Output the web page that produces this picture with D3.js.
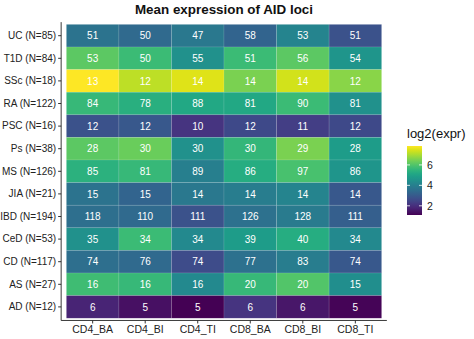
<!DOCTYPE html>
<html>
<head>
<meta charset="utf-8">
<script src="https://cdn.jsdelivr.net/npm/d3@7"></script>
<style>
  html, body { margin: 0; padding: 0; background: #fff; }
  svg { display: block; font-family: "Liberation Sans", Arial, Helvetica, sans-serif; }
</style>
</head>
<body>
<svg id="chart" width="474" height="339"></svg>
<script>
const columns = ["CD4_BA", "CD4_BI", "CD4_TI", "CD8_BA", "CD8_BI", "CD8_TI"];
const rows = ["UC (N=85)", "T1D (N=84)", "SSc (N=18)", "RA (N=122)", "PSC (N=16)", "Ps (N=38)",
              "MS (N=126)", "JIA (N=21)", "IBD (N=194)", "CeD (N=53)", "CD (N=117)", "AS (N=27)", "AD (N=12)"];
// log2(expr) colour values, one array per row, in column order
const log2Expr = [
  [3.67, 3.40, 3.80, 3.26, 4.14, 2.79],
  [6.16, 5.69, 4.48, 5.69, 6.16, 4.61],
  [7.85, 7.18, 7.51, 6.50, 7.38, 6.64],
  [5.62, 5.35, 5.15, 5.15, 5.69, 4.48],
  [2.79, 2.92, 2.11, 2.59, 2.32, 2.59],
  [6.16, 6.30, 4.48, 5.56, 6.50, 4.81],
  [5.42, 5.62, 4.00, 5.29, 5.89, 4.61],
  [3.67, 3.26, 3.80, 3.94, 4.14, 2.92],
  [3.53, 3.40, 2.79, 3.60, 3.87, 3.13],
  [4.48, 5.69, 4.27, 4.81, 5.29, 4.27],
  [3.53, 3.40, 2.65, 3.60, 3.94, 2.92],
  [5.76, 5.62, 4.27, 5.62, 6.03, 4.41],
  [1.78, 1.37, 1.10, 2.11, 1.51, 1.17]
];
// cell label counts
const counts = [
  [51, 50, 47, 58, 53, 51],
  [53, 50, 55, 51, 56, 54],
  [13, 12, 14, 14, 14, 12],
  [84, 78, 88, 81, 90, 81],
  [12, 12, 10, 12, 11, 12],
  [28, 30, 30, 30, 29, 28],
  [85, 81, 89, 86, 97, 86],
  [15, 15, 14, 14, 14, 14],
  [118, 110, 111, 126, 128, 111],
  [35, 34, 34, 39, 40, 34],
  [74, 76, 74, 77, 83, 74],
  [16, 16, 16, 20, 20, 15],
  [6, 5, 5, 6, 6, 5]
];
const legendTicks = [2, 4, 6];
const title = "Mean expression of AID loci";
const legendTitle = "log2(expr)";

const cells = [];
rows.forEach((r, i) => columns.forEach((c, j) => cells.push({row: r, col: c, v: log2Expr[i][j], n: counts[i][j]})));

const svg = d3.select("#chart");
const x = d3.scaleBand().domain(columns).range([66.4, 381.6]).paddingInner(0).paddingOuter(0);
const y = d3.scaleBand().domain(rows).range([24.4, 318.2]).paddingInner(0).paddingOuter(0);
const ext = d3.extent(cells, d => d.v);
const color = d3.scaleSequential(d3.interpolateViridis).domain(ext);

const xPad = 0.1 * x.bandwidth(), yPad = 0.1 * y.bandwidth();
const panelL = x.range()[0] - xPad, panelR = x.range()[1] + xPad;
const panelT = y.range()[0] - yPad, panelB = y.range()[1] + yPad;

// tiles
svg.append("g").selectAll("rect").data(cells).join("rect")
  .attr("x", d => x(d.col)).attr("y", d => y(d.row))
  .attr("width", x.bandwidth()).attr("height", y.bandwidth())
  .attr("fill", d => color(d.v))
  .attr("stroke", "rgba(255,255,255,0.18)").attr("stroke-width", 0.6);

// labels
svg.append("g").selectAll("text").data(cells).join("text")
  .attr("x", d => x(d.col) + x.bandwidth() / 2)
  .attr("y", d => y(d.row) + y.bandwidth() / 2)
  .attr("dy", "0.36em")
  .attr("text-anchor", "middle")
  .attr("fill", "#fff")
  .attr("font-size", 10)
  .text(d => d.n);

// axes
const xAxis = svg.append("g").attr("transform", `translate(0,${panelB})`)
  .call(d3.axisBottom(x).tickSize(3).tickPadding(2));
xAxis.select(".domain").remove();
xAxis.selectAll("line").attr("stroke", "#333");
xAxis.selectAll("text").attr("font-size", 10.5).attr("fill", "#222").attr("font-family", "Liberation Sans, Arial, sans-serif");

const yAxis = svg.append("g").attr("transform", `translate(${panelL},0)`)
  .call(d3.axisLeft(y).tickSize(3).tickPadding(2));
yAxis.select(".domain").remove();
yAxis.selectAll("line").attr("stroke", "#333");
yAxis.selectAll("text").attr("font-size", 10).attr("fill", "#222").attr("font-family", "Liberation Sans, Arial, sans-serif");

svg.append("line").attr("x1", panelL).attr("x2", panelR).attr("y1", panelB).attr("y2", panelB)
  .attr("stroke", "#222").attr("stroke-width", 0.9);
svg.append("line").attr("x1", panelL).attr("x2", panelL).attr("y1", panelT).attr("y2", panelB)
  .attr("stroke", "#222").attr("stroke-width", 0.9);

// title
svg.append("text").attr("x", (panelL + panelR) / 2).attr("y", 14)
  .attr("text-anchor", "middle").attr("font-weight", "bold").attr("font-size", 13.4)
  .attr("fill", "#111").text(title);

// legend
const lgX = 407, lgW = 15, lgTop = 146, lgBot = 215;
const ly = d3.scaleLinear().domain(ext).range([lgBot, lgTop]);
const defs = svg.append("defs");
const grad = defs.append("linearGradient").attr("id", "vgrad")
  .attr("x1", 0).attr("x2", 0).attr("y1", 1).attr("y2", 0);
d3.range(0, 1.0001, 0.05).forEach(t => grad.append("stop")
  .attr("offset", t).attr("stop-color", d3.interpolateViridis(t)));
svg.append("rect").attr("x", lgX).attr("y", lgTop).attr("width", lgW).attr("height", lgBot - lgTop)
  .attr("fill", "url(#vgrad)");
const lg = svg.append("g");
legendTicks.forEach(t => {
  const yy = ly(t);
  lg.append("line").attr("x1", lgX).attr("x2", lgX + 3).attr("y1", yy).attr("y2", yy).attr("stroke", "#fff").attr("stroke-width", 0.8);
  lg.append("line").attr("x1", lgX + lgW - 3).attr("x2", lgX + lgW).attr("y1", yy).attr("y2", yy).attr("stroke", "#fff").attr("stroke-width", 0.8);
  lg.append("text").attr("x", lgX + lgW + 5).attr("y", yy).attr("dy", "0.36em")
    .attr("font-size", 10.5).attr("fill", "#222").text(t);
});
svg.append("text").attr("x", lgX).attr("y", 137.5).attr("font-size", 13).attr("fill", "#111").text(legendTitle);
</script>
</body>
</html>
